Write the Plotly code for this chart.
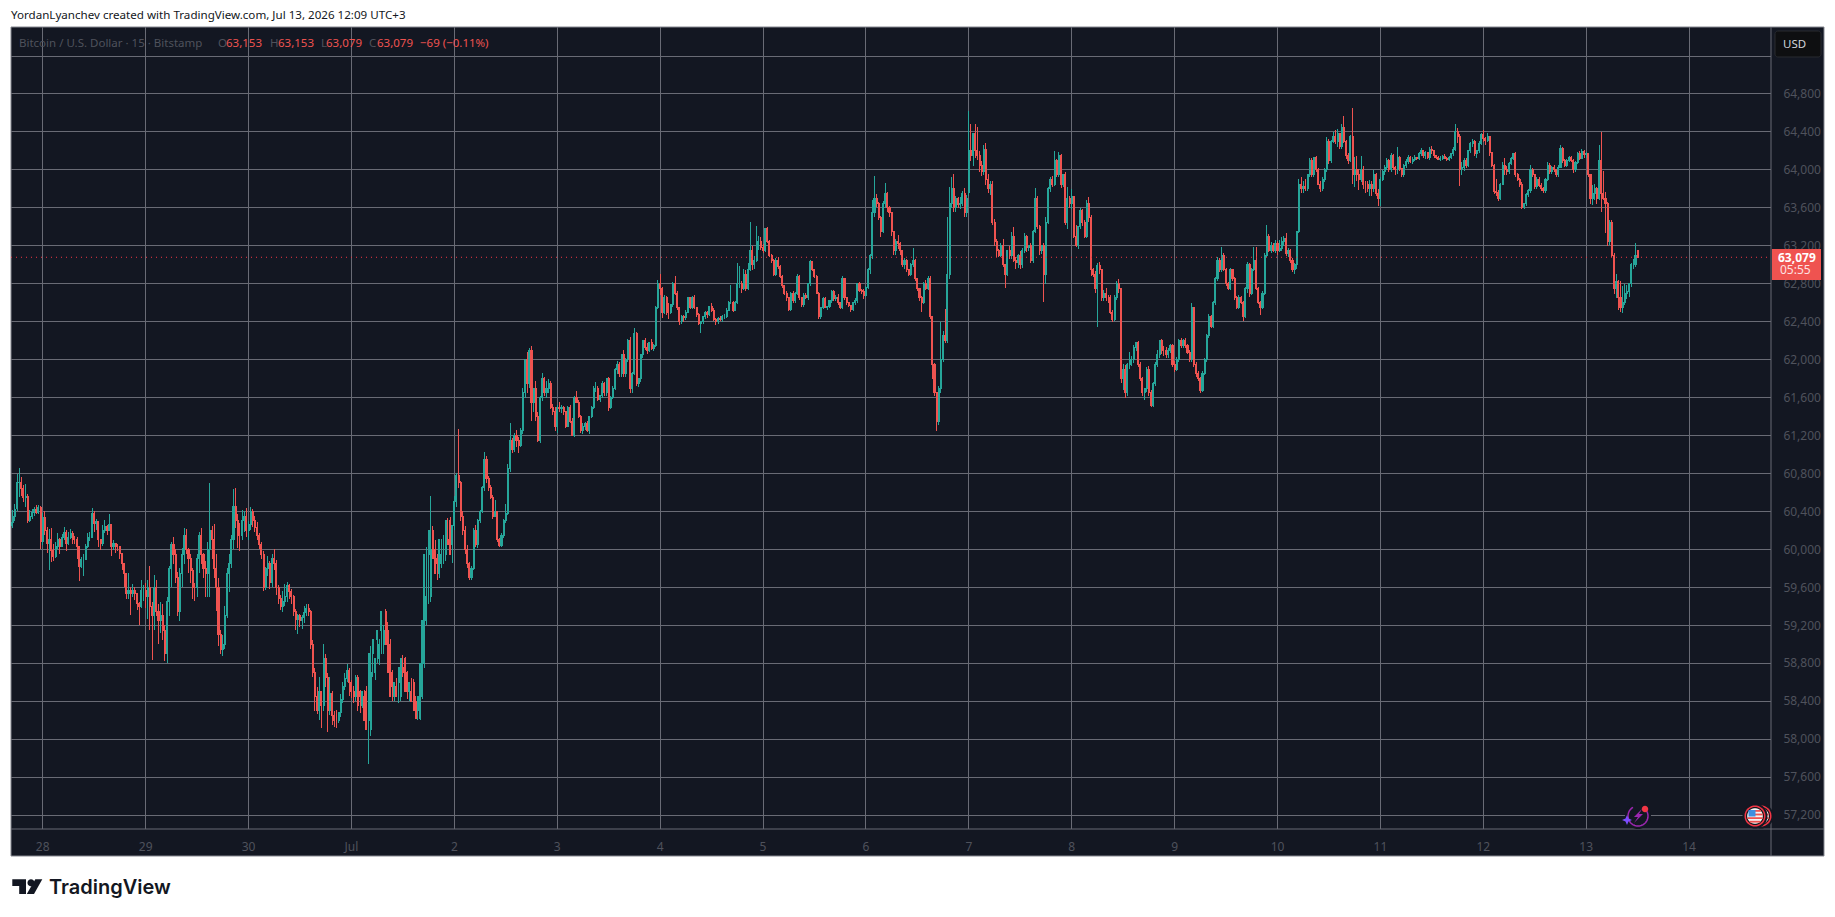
import math
import pandas as pd
import plotly.graph_objects as go

# BTC/USD from Bitstamp, grouped into half-hour bars, one block per calendar day.
jun27_open=[60250,60280,60350,60430,60700,60710,60640,60550,60560,60300,60350,60390,60420,60390,60440]
jun27_high=[60370,60420,60480,60790,60860,60760,60680,60690,60580,60420,60430,60450,60470,60470,60460]
jun27_low=[60180,60230,60300,60400,60550,60560,60500,60450,60280,60290,60320,60350,60370,60370,60000]
jun27_close=[60280,60350,60420,60700,60710,60640,60550,60560,60300,60350,60390,60420,60390,60440,60080]

jun28_open=[60080,60340,60200,60060,60100,59990,59920,60030,60100,60030,60130,60180,
60060,60130,60170,60100,60100,60030,59820,59890,59890,60030,60130,60130,
60380,60270,60290,60100,60060,60200,60240,60200,60260,60030,60060,60030,
60030,59960,59850,59750,59540,59570,59540,59570,59540,59430,59400,59570]
jun28_high=[60380,60400,60240,60220,60230,60060,60080,60170,60120,60160,60240,60200,
60180,60210,60190,60140,60130,60040,59920,59950,60060,60170,60180,60440,
60400,60320,60300,60110,60260,60310,60260,60370,60250,60100,60070,60060,
60000,59900,59800,59600,59750,59600,59640,59600,59540,59450,59680,59620]
jun28_low=[60050,60150,59960,59780,59870,59880,59910,60000,59950,60040,60100,59980,
60050,60110,60060,60060,59900,59670,59800,59720,59890,60020,60090,60120,
60180,60200,60030,59990,60040,60170,60150,60190,59930,59990,59960,59980,
59900,59780,59600,59480,59480,59310,59500,59470,59360,59200,59380,59460]
jun28_close=[60340,60200,60060,60100,59990,59920,60030,60100,60030,60130,60180,60060,
60130,60170,60100,60100,60030,59820,59890,59890,60030,60130,60130,60380,
60270,60290,60100,60060,60200,60240,60200,60260,60030,60060,60030,60030,
59960,59850,59750,59540,59570,59540,59570,59540,59430,59400,59570,59570]

jun29_open=[59570,59500,59600,59400,59300,59600,59350,59250,59300,59150,58900,59450,
59800,60050,59950,59700,59350,59750,59950,60150,60000,59900,59780,59600,
59600,59900,60150,59950,59800,59750,60000,60200,60100,59800,59600,59100,
58950,59000,59300,59750,59850,60100,60450,60300,60150,60150,60300,60350]
jun29_high=[59650,59680,59830,59450,59730,59680,59420,59450,59420,59200,59500,59820,
60080,60135,60000,59760,59800,60010,60230,60220,60010,59950,59800,59650,
59950,60180,60230,59960,59880,60080,60700,60250,60270,59950,59700,59150,
59100,59400,59800,59950,60150,60640,60650,60370,60280,60420,60410,60440]
jun29_low=[59380,59270,59150,58830,59150,59300,59000,59120,59050,58820,58800,59300,
59600,59850,59650,59300,59250,59600,59850,59950,59750,59650,59480,59460,
59500,59750,59850,59700,59500,59500,59500,59900,59700,59350,58980,58900,
58880,58950,59280,59550,59800,60000,60230,60020,59980,60100,60180,60130]
jun29_close=[59500,59600,59400,59300,59600,59350,59250,59300,59150,58900,59450,59800,
60050,59950,59700,59350,59750,59950,60150,60000,59900,59780,59600,59600,
59900,60150,59950,59800,59750,60000,60200,60100,59800,59600,59100,58950,
59000,59300,59750,59850,60100,60450,60300,60150,60150,60300,60350,60200]

jun30_open=[60200,60260,60400,60300,60230,60150,60050,59950,59600,59800,59850,59650,
59900,59850,59600,59480,59400,59450,59500,59620,59560,59500,59350,59260,
59300,59250,59280,59330,59380,59350,59000,58700,58450,58300,58500,58350,
58850,58650,58300,58480,58250,58200,58200,58280,58420,58560,58640,58720]
jun30_high=[60300,60450,60430,60350,60290,60170,60080,59980,59810,59930,59880,59950,
60000,59890,59620,59520,59560,59640,59660,59640,59580,59520,59370,59320,
59320,59310,59400,59420,59420,59360,59050,58750,58550,58660,58510,59000,
58900,58700,58660,58510,58300,58310,58290,58480,58600,58700,58790,58750]
jun30_low=[60100,60200,60240,60180,60100,60000,59900,59560,59570,59720,59580,59600,
59780,59520,59420,59360,59340,59400,59450,59480,59420,59300,59150,59110,
59180,59160,59220,59300,59300,58950,58650,58300,58260,58200,58120,58300,
58550,58080,58250,58150,58130,58120,58170,58230,58380,58520,58600,58450]
jun30_close=[60260,60400,60300,60230,60150,60050,59950,59600,59800,59850,59650,59900,
59850,59600,59480,59400,59450,59500,59620,59560,59500,59350,59260,59300,
59250,59280,59330,59380,59350,59000,58700,58450,58300,58500,58350,58850,
58650,58300,58480,58250,58200,58200,58280,58420,58560,58640,58720,58600]

jul01_open=[58600,58500,58450,58650,58500,58350,58450,58500,58200,58100,58900,58700,
59050,58850,59150,59000,59350,59150,59000,58700,58450,58550,58600,58450,
58750,58850,58700,58500,58500,58600,58400,58300,58220,58450,58800,59250,
59950,59500,60200,60000,59900,59750,59850,60100,59950,60100,60300,60050]
jul01_high=[58620,58560,58680,58680,58520,58470,58520,58560,58400,58980,59000,58860,
59110,59060,59230,59200,59370,59240,59060,58730,58600,58640,58660,58730,
58890,58870,58720,58560,58640,58630,58450,58340,58520,58830,59300,60030,
60000,60560,60250,60100,59950,59900,60110,60150,60180,60330,60340,60080]
jul01_low=[58430,58380,58400,58300,58280,58330,58400,58160,57740,58030,58650,58620,
58800,58780,58900,58900,59080,58950,58650,58400,58400,58470,58380,58400,
58650,58600,58420,58400,58420,58350,58230,58200,58200,58420,58750,59200,
59420,59450,59900,59780,59680,59700,59800,59850,59880,60050,59980,59860]
jul01_close=[58500,58450,58650,58350,58450,58500,58200,58100,58900,58700,59050,58850,
59150,59000,59350,59150,59000,58700,58450,58550,58600,58450,58750,58850,
58700,58500,58500,58600,58400,58300,58220,58450,58800,59250,59950,59500,
60200,60000,59900,59750,59850,60100,59950,60100,60300,60050,59950,60250]

jul02_open=[60250,60500,60780,60700,60350,60200,60000,59850,59700,59800,60200,60050,
60300,60400,60650,60950,60750,60650,60550,60350,60400,60100,60040,60150,
60300,60380,60850,61150,61050,61200,61150,61100,61250,61650,62000,61750,
62100,61550,61700,61400,61150,61600,61800,61650,61700,61750,61500,61450]
jul02_high=[60560,60810,61270,60720,60400,60250,60050,59870,59820,60230,60260,60320,
60420,60670,61030,60980,60770,60680,60570,60520,60410,60120,60170,60320,
60480,60900,61330,61170,61230,61260,61180,61280,61700,62010,62080,62120,
62140,61700,61770,61450,61620,61860,61820,61770,61800,61770,61530,61500]
jul02_low=[60200,60450,60650,60300,60150,59950,59800,59680,59680,59780,60030,60020,
60280,60380,60620,60700,60620,60530,60320,60340,60080,60030,60030,60120,
60280,60360,60820,61020,61030,61080,61020,61080,61220,61600,61650,61700,
61350,61450,61350,61130,61120,61560,61620,61600,61650,61480,61420,61250]
jul02_close=[60500,60780,60700,60350,60200,60000,59850,59700,59800,60200,60050,60300,
60400,60650,60950,60750,60650,60550,60350,60400,60100,60040,60150,60300,
60380,60850,61150,61050,61200,61150,61100,61250,61650,62000,61750,62100,
61550,61700,61400,61150,61600,61800,61650,61700,61750,61500,61450,61300]

jul03_open=[61300,61500,61480,61500,61450,61300,61500,61350,61200,61600,61550,61400,
61250,61300,61330,61250,61400,61500,61700,61700,61580,61620,61750,61650,
61800,61500,61600,61700,61900,61950,61850,62050,61850,62000,62200,61700,
61850,62280,61750,61800,62050,62200,62130,62100,62180,62120,62150,62550]
jul03_high=[61520,61550,61520,61510,61460,61510,61520,61380,61620,61670,61570,61420,
61330,61340,61350,61410,61510,61720,61760,61720,61630,61770,61760,61800,
61820,61620,61720,61910,61990,61970,62060,62100,62020,62220,62240,61870,
62330,62290,61810,62060,62210,62230,62180,62190,62220,62160,62570,62840]
jul03_low=[61230,61450,61440,61420,61280,61290,61330,61190,61180,61540,61380,61230,
61220,61260,61240,61220,61380,61480,61660,61560,61550,61600,61620,61620,
61460,61480,61590,61680,61850,61820,61820,61820,61820,61980,61650,61650,
61840,61720,61710,61760,62020,62100,62060,62080,62100,62090,62130,62530]
jul03_close=[61500,61480,61500,61450,61300,61500,61350,61200,61600,61550,61400,61250,
61300,61330,61250,61400,61500,61700,61700,61580,61620,61750,61650,61800,
61500,61600,61700,61900,61950,61850,62050,61850,62000,62200,61700,61850,
62280,61750,61800,62050,62200,62130,62100,62180,62120,62150,62550,62800]

jul04_open=[62800,62750,62500,62650,62500,62500,62580,62800,62700,62550,62400,62450,
62440,62500,62650,62550,62650,62550,62480,62380,62400,62450,62500,62480,
62560,62520,62420,62400,62430,62420,62450,62450,62520,62600,62600,62520,
62600,62800,62800,62750,62900,62750,62950,63150,63000,63050,63250,63250]
jul04_high=[62900,62770,62680,62670,62600,62590,62820,62880,62720,62560,62470,62470,
62520,62660,62660,62670,62680,62560,62490,62400,62460,62510,62510,62570,
62600,62540,62440,62450,62460,62470,62480,62540,62620,62790,62620,62620,
63020,62990,62830,62960,62950,63020,63450,63200,63090,63410,63300,63290]
jul04_low=[62680,62440,62480,62470,62430,62480,62560,62680,62520,62360,62380,62400,
62420,62490,62530,62530,62530,62450,62360,62280,62380,62430,62440,62460,
62500,62410,62370,62380,62410,62400,62430,62440,62510,62590,62500,62510,
62590,62750,62700,62730,62720,62730,62930,62950,62960,63030,63160,63160]
jul04_close=[62750,62500,62650,62500,62500,62580,62800,62700,62550,62400,62450,62440,
62500,62650,62550,62650,62550,62480,62380,62400,62450,62500,62480,62560,
62520,62420,62400,62430,62420,62450,62450,62520,62600,62600,62520,62600,
62800,62800,62750,62900,62750,62950,63150,63000,63050,63250,63250,63180]

jul05_open=[63180,63150,63380,63250,63100,63050,62900,63050,62980,62880,62780,62700,
62650,62530,62700,62620,62700,62880,62650,62580,62680,62650,62800,63030,
62950,62880,62700,62450,62550,62640,62550,62560,62620,62720,62640,62660,
62600,62550,62850,62650,62600,62570,62530,62600,62620,62800,62730,62720]
jul05_high=[63220,63390,63400,63260,63110,63060,63070,63080,63000,62890,62790,62720,
62660,62710,62720,62710,62900,62890,62660,62700,62700,62810,63050,63040,
62960,62890,62710,62560,62660,62660,62570,62630,62730,62730,62680,62690,
62610,62880,62860,62660,62610,62580,62610,62650,62810,62820,62740,62740]
jul05_low=[63120,63130,63230,63080,63020,62880,62880,62960,62860,62760,62680,62620,
62510,62510,62600,62600,62680,62630,62560,62560,62640,62630,62780,62930,
62860,62690,62430,62430,62530,62540,62520,62540,62600,62620,62620,62580,
62530,62530,62630,62580,62550,62500,62510,62580,62600,62710,62690,62640]
jul05_close=[63150,63380,63250,63100,63050,62900,63050,62980,62880,62780,62700,62650,
62530,62700,62620,62700,62880,62650,62580,62680,62650,62800,63030,62950,
62880,62700,62450,62550,62640,62550,62560,62620,62720,62640,62660,62600,
62550,62850,62650,62600,62570,62530,62600,62620,62800,62730,62720,62680]

jul06_open=[62680,62760,62950,63100,63550,63700,63650,63500,63350,63650,63750,63600,
63550,63350,63150,63250,63220,63150,63000,63050,62950,62900,63000,63050,
62850,62750,62650,62600,62800,62750,62850,62450,61950,61650,61350,61700,
62000,62250,62200,62900,63650,63800,63600,63700,63640,63650,63750,63550]
jul06_high=[62780,62970,63110,63680,63940,63750,63660,63510,63670,63860,63770,63620,
63560,63360,63270,63310,63240,63160,63070,63060,62960,63020,63180,63060,
62860,62760,62670,62820,62840,62880,62880,62460,61960,61660,61720,62400,
62300,62530,63500,63820,63920,63960,63720,63710,63710,63780,63810,63740]
jul06_low=[62660,62740,62900,63060,63500,63610,63470,63290,63340,63600,63560,63500,
63300,63100,63100,63170,63100,62980,62960,62920,62880,62880,62980,62830,
62720,62620,62500,62590,62730,62730,62430,61800,61620,61250,61310,61650,
61980,62180,62180,62850,63600,63560,63560,63600,63590,63620,63500,63500]
jul06_close=[62760,62950,63100,63550,63700,63650,63500,63350,63650,63750,63600,63550,
63350,63150,63250,63220,63150,63000,63050,62950,62900,63000,63050,62850,
62750,62650,62600,62800,62750,62850,62450,61950,61650,61350,61700,62000,
62250,62200,62900,63650,63800,63600,63700,63640,63650,63750,63550,63700]

jul07_open=[63760,64200,64150,64380,64200,64150,64050,63980,64220,63900,63800,63850,
63450,63250,63150,63100,63200,63000,62900,63150,63100,63300,63050,63020,
63100,63000,63150,63300,63180,63200,63050,63350,63700,63400,63150,63200,
62900,63450,63800,63900,63850,64100,63950,64150,63850,63950,63450,63700]
jul07_high=[64625,64480,64320,64480,64450,64200,64090,64260,64280,63960,63880,63880,
63480,63270,63170,63230,63270,63010,63150,63200,63350,63400,63080,63110,
63150,63180,63340,63310,63210,63230,63370,63810,63720,63420,63210,63230,
63500,63820,63930,63940,64200,64120,64190,64170,63960,63980,63820,63720]
jul07_low=[63730,64090,64040,64130,64100,63980,63940,63950,63840,63760,63740,63420,
63200,63080,63080,63080,62980,62750,62880,63060,63060,63030,62960,62970,
62960,62970,63120,63130,63140,63020,63020,63330,63380,63100,63110,62610,
62800,63430,63770,63820,63830,63920,63920,63810,63820,63420,63380,63600]
jul07_close=[64200,64150,64380,64200,64150,64050,63980,64220,63900,63800,63850,63450,
63250,63150,63100,63200,63000,62900,63150,63100,63300,63050,63020,63100,
63000,63150,63300,63180,63200,63050,63350,63700,63400,63150,63200,62900,
63450,63800,63900,63850,64100,63950,64150,63850,63950,63450,63700,63650]

jul08_open=[63650,63720,63300,63200,63400,63570,63450,63300,63650,63500,62950,62900,
62750,62990,62950,62650,62700,62650,62650,62500,62420,62650,62800,62750,
61800,61900,61650,61950,62000,62000,62130,62180,61950,61800,61650,61700,
61900,61650,61520,61750,61950,62050,62200,62100,62100,62050,62100,62150]
jul08_high=[63800,63730,63420,63410,63600,63590,63470,63680,63710,63520,62970,62930,
63020,63030,62960,62730,62760,62680,62680,62520,62680,62830,62850,62760,
61950,61940,61960,62080,62040,62150,62190,62200,61970,61820,61700,61920,
61930,61680,61760,61970,62100,62210,62220,62140,62130,62120,62170,62170]
jul08_low=[63590,63280,63190,63170,63380,63410,63280,63280,63450,62880,62870,62700,
62340,62900,62620,62620,62620,62600,62480,62400,62410,62630,62700,61750,
61680,61600,61620,61900,61930,61960,62090,61920,61780,61620,61570,61660,
61620,61500,61500,61720,61920,62020,62060,62040,62020,62020,62070,61920]
jul08_close=[63720,63300,63200,63400,63570,63450,63300,63650,63500,62950,62900,62750,
62990,62950,62650,62700,62650,62650,62500,62420,62650,62800,62750,61800,
61900,61650,61950,62000,62000,62130,62180,61950,61800,61650,61700,61900,
61650,61520,61750,61950,62050,62200,62100,62100,62050,62100,62150,61950]

jul09_open=[61950,61900,62000,62200,62150,62200,62150,62080,62000,62550,61950,61850,
61800,61680,61850,62000,62250,62450,62350,62600,62850,63050,62950,63100,
62950,62800,62750,62950,62850,62650,62550,62650,62600,62450,62750,63000,
62700,62950,63050,62750,62600,62550,62700,63100,63300,63150,63200,63150]
jul09_high=[61990,62030,62220,62230,62220,62230,62170,62100,62600,62560,61980,61880,
61820,61880,62020,62270,62480,62470,62620,62870,63080,63070,63190,63120,
62970,62820,62970,62960,62870,62670,62680,62670,62620,62770,63030,63020,
62970,63190,63190,62770,62620,62720,63120,63420,63320,63240,63230,63260]
jul09_low=[61870,61880,61980,62120,62120,62120,62060,61970,61980,61920,61820,61780,
61650,61660,61840,61980,62230,62330,62330,62580,62830,62920,62920,62930,
62780,62730,62730,62830,62630,62530,62530,62590,62410,62440,62700,62660,
62680,62930,62730,62590,62470,62530,62680,63080,63130,63120,63130,63120]
jul09_close=[61900,62000,62200,62150,62200,62150,62080,62000,62550,61950,61850,61800,
61680,61850,62000,62250,62450,62350,62600,62850,63050,62950,63100,62950,
62800,62750,62950,62850,62650,62550,62650,62600,62450,62750,63000,62700,
62950,63050,62750,62600,62550,62700,63100,63300,63150,63200,63150,63220]

jul10_open=[63220,63150,63170,63250,63280,63120,63150,63050,62950,63000,63350,63850,
63800,63820,63800,63950,64100,63950,64130,64000,63850,63800,63900,64000,
64300,64100,64300,64350,64300,64380,64250,64450,64300,64150,64100,64350,
63950,64000,63950,63900,64000,63850,63850,63800,63850,63800,63950,63750]
jul10_high=[63250,63260,63290,63300,63330,63180,63170,63070,63020,63350,63900,63920,
63880,63900,63960,64130,64130,64140,64150,64020,63880,63920,64020,64350,
64330,64320,64400,64420,64430,64390,64480,64565,64320,64180,64370,64650,
64140,64150,64010,64150,64040,63880,63880,63890,63880,64000,63970,63800]
jul10_low=[63100,63130,63140,63200,63090,63080,63020,62920,62900,62960,63330,63760,
63760,63780,63780,63930,63920,63930,63980,63840,63770,63780,63870,63980,
64060,64070,64280,64270,64240,64220,64220,64280,64120,64060,64080,63850,
63820,63880,63790,63870,63800,63760,63770,63720,63730,63770,63720,63620]
jul10_close=[63150,63170,63250,63280,63120,63150,63050,62950,63000,63350,63850,63800,
63820,63800,63950,64100,63950,64130,64000,63850,63800,63900,64000,64300,
64100,64300,64350,64300,64380,64250,64450,64300,64150,64100,64350,63950,
64000,63950,63900,64000,63850,63850,63800,63850,63800,63950,63750,63700]

jul11_open=[63700,63900,63980,64030,64100,64000,64150,64020,64000,64130,64010,63950,
64050,64090,64130,64090,64110,64130,64120,64170,64200,64150,64180,64130,
64220,64200,64150,64130,64110,64120,64140,64120,64110,64130,64170,64220,
64400,64350,64000,64030,64100,64050,64200,64280,64300,64170,64200,64280]
jul11_high=[63920,64000,64050,64130,64110,64180,64170,64040,64240,64150,64020,64060,
64110,64160,64150,64140,64160,64140,64190,64230,64210,64200,64190,64240,
64250,64210,64160,64150,64150,64160,64170,64140,64150,64180,64240,64480,
64440,64380,64080,64130,64130,64210,64290,64330,64310,64210,64300,64390]
jul11_low=[63620,63880,63950,64000,63980,63980,64000,63950,63960,63990,63920,63930,
64020,64060,64070,64060,64090,64100,64100,64150,64130,64120,64110,64100,
64170,64130,64110,64100,64090,64100,64110,64090,64090,64120,64150,64200,
64280,63830,63950,63990,64020,64030,64180,64240,64150,64130,64180,64260]
jul11_close=[63900,63980,64030,64100,64000,64150,64020,64000,64130,64010,63950,64050,
64090,64130,64090,64110,64130,64120,64170,64200,64150,64180,64130,64220,
64200,64150,64130,64110,64120,64140,64120,64110,64130,64170,64220,64400,
64350,64000,64030,64100,64050,64200,64280,64300,64170,64200,64280,64370]

jul12_open=[64370,64330,64310,64350,64180,64050,63770,63760,63700,63850,64050,64000,
63980,64070,64120,64170,63950,63900,63850,63600,63650,63740,63780,64000,
63950,63820,63900,63840,63800,63780,63900,64050,63980,64020,64000,63950,
64030,64230,64100,64050,64100,64130,64100,64000,64080,64170,64120,64190]
jul12_high=[64420,64350,64390,64360,64190,64060,63900,63790,63860,64080,64130,64040,
64080,64140,64180,64190,63970,63910,63870,63640,63760,63800,64050,64020,
63960,63920,63920,63860,63820,63910,64080,64070,64040,64050,64010,64050,
64260,64240,64120,64120,64150,64150,64110,64090,64190,64200,64220,64210]
jul12_low=[64290,64260,64290,64150,64030,63750,63720,63670,63680,63840,63950,63950,
63960,64050,64100,63930,63880,63820,63590,63590,63620,63710,63760,63920,
63800,63800,63820,63780,63760,63760,63880,63960,63960,63980,63930,63920,
64020,64070,64030,64030,64080,64080,63970,63980,64060,64100,64110,64130]
jul12_close=[64330,64310,64350,64180,64050,63770,63760,63700,63850,64050,64000,63980,
64070,64120,64170,63950,63900,63850,63600,63650,63740,63780,64000,63950,
63820,63900,63840,63800,63780,63900,64050,63980,64020,64000,63950,64030,
64230,64100,64050,64100,64130,64100,64000,64080,64170,64120,64190,64160]

jul13_open=[64160,64170,63950,63700,63750,63800,63700,64100,63750,63700,63650,63250,
63450,63100,62750,62820,62650,62550,62600,62700,62720,62800,63000,63000,63153]
jul13_high=[64190,64180,63960,63840,63850,63820,64260,64400,63990,63770,63660,63470,
63470,63120,62900,62840,62830,62780,62800,62790,62810,63020,63060,63230,63153]
jul13_low=[64130,63930,63640,63630,63680,63640,63680,63560,63680,63330,63200,63210,
63080,62690,62650,62520,62500,62490,62580,62640,62660,62770,62960,62980,63079]
jul13_close=[64170,63950,63700,63750,63800,63700,64100,63750,63700,63650,63250,63450,
63100,62750,62820,62650,62550,62600,62700,62720,62800,63000,63000,63100,63079]

# (first bar time, time covered, open, high, low, close)
day_blocks = [
    ("2026-06-27 16:30", 7.5, jun27_open, jun27_high, jun27_low, jun27_close),
    ("2026-06-28 00:00", 24, jun28_open, jun28_high, jun28_low, jun28_close),
    ("2026-06-29 00:00", 24, jun29_open, jun29_high, jun29_low, jun29_close),
    ("2026-06-30 00:00", 24, jun30_open, jun30_high, jun30_low, jun30_close),
    ("2026-07-01 00:00", 24, jul01_open, jul01_high, jul01_low, jul01_close),
    ("2026-07-02 00:00", 24, jul02_open, jul02_high, jul02_low, jul02_close),
    ("2026-07-03 00:00", 24, jul03_open, jul03_high, jul03_low, jul03_close),
    ("2026-07-04 00:00", 24, jul04_open, jul04_high, jul04_low, jul04_close),
    ("2026-07-05 00:00", 24, jul05_open, jul05_high, jul05_low, jul05_close),
    ("2026-07-06 00:00", 24, jul06_open, jul06_high, jul06_low, jul06_close),
    ("2026-07-07 00:00", 24, jul07_open, jul07_high, jul07_low, jul07_close),
    ("2026-07-08 00:00", 24, jul08_open, jul08_high, jul08_low, jul08_close),
    ("2026-07-09 00:00", 24, jul09_open, jul09_high, jul09_low, jul09_close),
    ("2026-07-10 00:00", 24, jul10_open, jul10_high, jul10_low, jul10_close),
    ("2026-07-11 00:00", 24, jul11_open, jul11_high, jul11_low, jul11_close),
    ("2026-07-12 00:00", 24, jul12_open, jul12_high, jul12_low, jul12_close),
    ("2026-07-13 00:00", 12.5, jul13_open, jul13_high, jul13_low, jul13_close),
]

last_price = 63079
price_ticks = [57200, 57600, 58000, 58400, 58800, 59200, 59600, 60000, 60400, 60800, 61200,
               61600, 62000, 62400, 62800, 63200, 63600, 64000, 64400, 64800, 65200]
day_ticks = ["2026-06-28", "2026-06-29", "2026-06-30", "2026-07-01", "2026-07-02", "2026-07-03",
             "2026-07-04", "2026-07-05", "2026-07-06", "2026-07-07", "2026-07-08", "2026-07-09",
             "2026-07-10", "2026-07-11", "2026-07-12", "2026-07-13", "2026-07-14"]
day_labels = ["28", "29", "30", "Jul", "2", "3", "4", "5", "6", "7", "8", "9", "10", "11", "12", "13", "14"]

times, opens, highs, lows, closes = [], [], [], [], []
for start, hours, o, h, l, c in day_blocks:
    n = min(len(o), len(h), len(l), len(c))
    step = pd.Timedelta(hours=hours) / n
    t0 = pd.Timestamp(start)
    times += [t0 + step * i for i in range(n)]
    opens += o[:n]
    highs += h[:n]
    lows += l[:n]
    closes += c[:n]

W, H = 1835, 917
LEFT, RIGHT, TOP, BOTTOM = 11, 1771, 27, 829
BG = "#131722"
GRID = "#696b75"
DIM = "#4f525c"
UP, DOWN = "#26a69a", "#ef5350"


def fx(p):
    return (p - LEFT) / (RIGHT - LEFT)


def fy(p):
    return 1 - (p - TOP) / (BOTTOM - TOP)


def poly(points, close=True):
    d = "M" + " L".join(f"{fx(x):.6f},{fy(y):.6f}" for x, y in points)
    return d + (" Z" if close else "")


def disc(cx, cy, r, start=0, sweep=360, steps=48):
    return [(cx + r * math.cos(math.radians(start + sweep * i / steps)),
             cy + r * math.sin(math.radians(start + sweep * i / steps))) for i in range(steps + 1)]


def rounded(x0, y0, x1, y1, r):
    pts = disc(x1 - r, y0 + r, r, -90, 90, 6) + disc(x1 - r, y1 - r, r, 0, 90, 6)
    pts += disc(x0 + r, y1 - r, r, 90, 90, 6) + disc(x0 + r, y0 + r, r, 180, 90, 6)
    return pts


shapes = []


def add_path(points, fill=None, line=None, width=0, close=True, layer="above"):
    shapes.append(dict(type="path", xref="paper", yref="paper", path=poly(points, close), layer=layer,
                       fillcolor=fill if fill else "rgba(0,0,0,0)",
                       line=dict(color=line if line else "rgba(0,0,0,0)", width=width)))


def add_rect(x0, y0, x1, y1, fill=None, line=None, width=0, layer="above"):
    shapes.append(dict(type="rect", xref="paper", yref="paper", layer=layer,
                       x0=fx(x0), x1=fx(x1), y0=fy(y0), y1=fy(y1),
                       fillcolor=fill if fill else "rgba(0,0,0,0)",
                       line=dict(color=line if line else "rgba(0,0,0,0)", width=width)))


# chart frame and the scale strips
add_rect(11, 27, 1824, 856, fill=BG, line="#85878f", width=1, layer="below")
add_path([(RIGHT, TOP), (RIGHT, 856)], line=GRID, width=1, close=False)
add_path([(LEFT, BOTTOM), (1824, BOTTOM)], line=GRID, width=1, close=False)

# last price line
shapes.append(dict(type="line", xref="paper", yref="y", x0=0, x1=1, y0=last_price, y1=last_price,
                   line=dict(color="#f23645", width=1, dash="1px,4px"), layer="above"))

# price tag and currency button
add_rect(1772, 249, 1821, 280, fill=DOWN)
add_path(rounded(1775, 31, 1821, 57, 3), fill="#0e0f11", line="#2a2c31", width=1)

# event badge on the time scale
add_path(disc(1638, 816, 13), fill=BG)
add_path(disc(1638, 816, 10, -60, 300), line="#9c27b0", width=1.5, close=False)
add_path([(1642, 809), (1634, 817), (1638, 817), (1634, 823), (1643, 814), (1639, 814)], fill="#9c27b0")
add_path(disc(1645, 809, 3.2), fill="#f23645")
add_path([(1627, 815), (1628.5, 818.5), (1632, 820), (1628.5, 821.5), (1627, 825), (1625.5, 821.5),
          (1622, 820), (1625.5, 818.5)], fill="#7c4dff")


def flag(cx, cy):
    add_path(disc(cx, cy, 12.5), fill=BG)
    add_path(disc(cx, cy, 10.5), fill="#f23645")
    add_path(disc(cx, cy, 9), fill="#16171c")
    add_path(disc(cx, cy, 7.8), fill="#f4f4f4")
    for i, dy in enumerate([-6, -2.4, 1.2, 4.8]):
        half = math.sqrt(max(7.8 ** 2 - (dy + 0.9) ** 2, 0))
        x0 = cx - half if dy > 0 else cx
        add_rect(x0, cy + dy, cx + half, cy + dy + 1.8, fill="#ef5350")
    add_rect(cx - 6.5, cy - 6, cx + 0.5, cy + 0.5, fill="#3d8fe0")


flag(1761, 816)
flag(1755, 816)

# brand mark
add_path([(12.3, 879.3), (26, 879.3), (26, 894), (19.2, 894), (19.2, 886), (12.3, 886)], fill="#131722")
add_path(disc(31, 882.8, 3.5), fill="#131722")
add_path([(35.3, 879.3), (42.3, 879.3), (34, 894), (26.8, 894)], fill="#131722")


def note(text, x, y, color, size=12, family="Noto Sans", anchor="left", weight=None):
    font = dict(color=color, size=size, family=family)
    if weight:
        font["weight"] = weight
    return dict(text=text, x=fx(x), y=fy(y), xref="paper", yref="paper", showarrow=False,
                xanchor=anchor, yanchor="middle", borderpad=0, font=font)


annotations = [
    note("YordanLyanchev created with TradingView.com, Jul 13, 2026 12:09 UTC+3", 10, 14, "#131722", 11.6),
    note("Bitcoin / U.S. Dollar · 15 · Bitstamp", 18, 42, DIM, 11.5),
    note("O", 217, 42, DIM, 11.5),
    note("63,153", 225, 42, DOWN, 11.5),
    note("H", 269, 42, DIM, 11.5),
    note("63,153", 277, 42, DOWN, 11.5),
    note("L", 320, 42, DIM, 11.5),
    note("63,079", 325, 42, DOWN, 11.5),
    note("C", 368, 42, DIM, 11.5),
    note("63,079", 375.5, 42, DOWN, 11.5),
    note("−69 (−0.11%)", 419, 42, DOWN, 11.5),
    note("USD", 1794, 44, "#d1d4dc", 11.5, anchor="center"),
    note("63,079", 1797, 257, "#ffffff", 12, anchor="center", weight=700),
    note("05:55", 1795, 270, "#fde2e2", 12, anchor="center"),
    note("TradingView", 48, 886.5, "#131722", 20, family="Inter", weight=600),
]

fig = go.Figure(go.Candlestick(
    x=times, open=opens, high=highs, low=lows, close=closes,
    increasing=dict(line=dict(color=UP, width=1), fillcolor=UP),
    decreasing=dict(line=dict(color=DOWN, width=1), fillcolor=DOWN),
    whiskerwidth=0, showlegend=False,
))

fig.update_layout(
    width=W, height=H, autosize=False,
    margin=dict(l=LEFT, r=W - RIGHT, t=TOP, b=H - BOTTOM, pad=0),
    paper_bgcolor="#ffffff", plot_bgcolor=BG,
    shapes=shapes, annotations=annotations,
    xaxis=dict(
        type="date", range=["2026-06-27 16:36", "2026-07-14 19:06"],
        rangeslider=dict(visible=False), tickmode="array",
        tickvals=day_ticks, ticktext=day_labels,
        showgrid=True, gridcolor=GRID, gridwidth=1, zeroline=False, showline=False,
        ticks="outside", ticklen=7, tickcolor="rgba(0,0,0,0)",
        tickfont=dict(color=DIM, size=12, family="Noto Sans"),
    ),
    yaxis=dict(
        side="right", range=[57053, 65506], tickmode="array", tickvals=price_ticks,
        ticktext=[f"{v:,}" if v < 65000 else "" for v in price_ticks],
        showgrid=True, gridcolor=GRID, gridwidth=1, zeroline=False, showline=False,
        ticks="outside", ticklen=9, tickcolor="rgba(0,0,0,0)",
        tickfont=dict(color=DIM, size=12, family="Noto Sans"),
    ),
)

# keep the thin candle strokes on whole pixels
crisp = "document.querySelectorAll('.boxes path').forEach(function(p){p.style.shapeRendering='crispEdges';});"
fig.write_html("out.html", post_script=crisp)
